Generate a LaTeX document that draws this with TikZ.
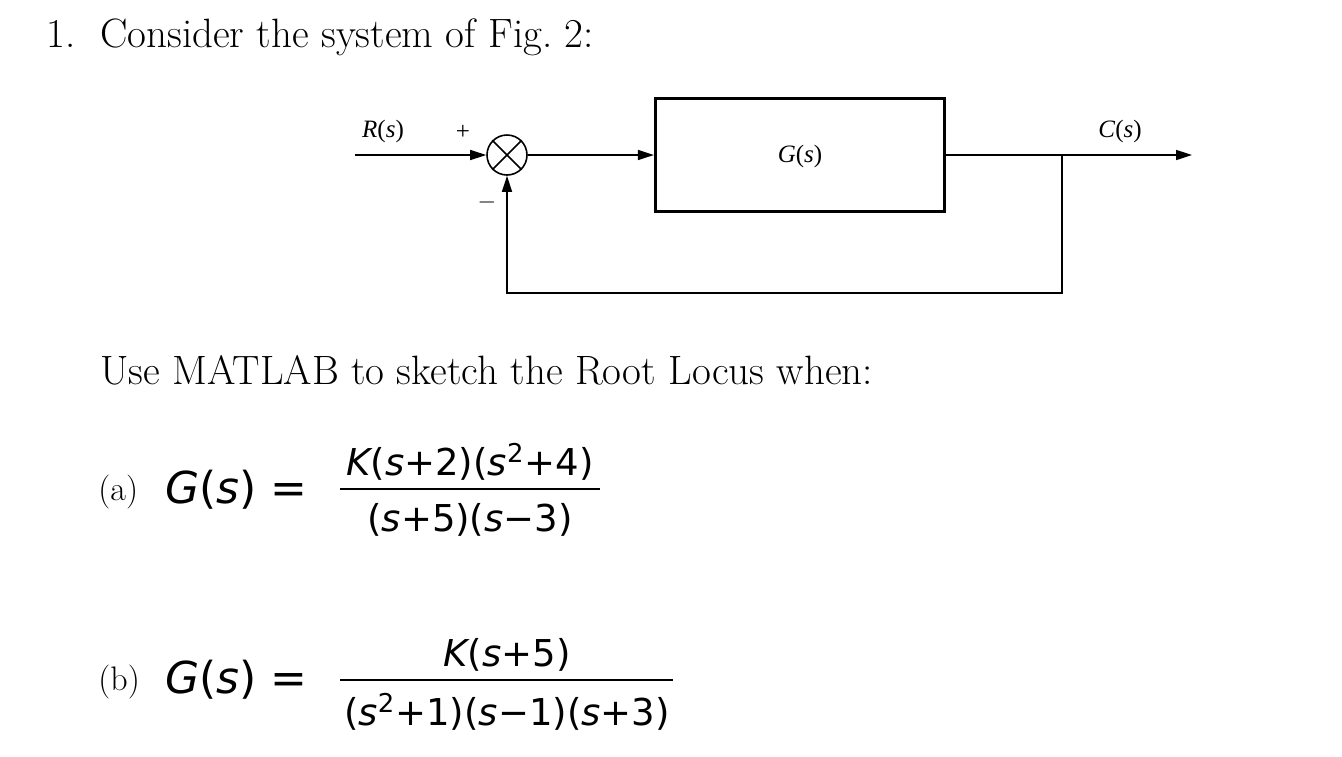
\documentclass[tikz,border=0pt]{standalone}
\usepackage{fontspec}
\newfontfamily\tms{Liberation Serif}
\newfontfamily\eqf{DejaVu Sans}
\usetikzlibrary{arrows.meta}
\begin{document}
\begin{tikzpicture}[x=0.5pt,y=-0.5pt,
  ln/.style={line width=0.8pt},
  ar/.style={ln,-{Triangle[length=8pt,width=5pt]}},
  lab/.style={font=\fontsize{12.5}{14}\selectfont\tms},
  txt/.style={font=\fontsize{20.5}{22}\selectfont,anchor=west,inner sep=0},
  eq/.style={font=\fontsize{18.5}{20}\selectfont\eqf,inner sep=0}]
\useasboundingbox (0,0) rectangle (1342,756);
\node[txt] (t1) at (46,37) {1.\ \ Consider the system of Fig.~2:};
\coordinate (rin) at (355,155);
\node[circle,draw,ln,minimum size=40*0.5pt,inner sep=0] (sum) at (507,155) {};
\draw[ln] (sum.north west) -- (sum.south east) (sum.north east) -- (sum.south west);
\node[draw,line width=1.6pt,minimum width=289*0.5pt,minimum height=113*0.5pt] (G) at (800,155) {};
\node[lab] (gl) at (800,156) {\textit{G}(\textit{s})};
\node[lab] (rl) at (383,131) {\textit{R}(\textit{s})};
\node[lab] (cl) at (1120,131) {\textit{C}(\textit{s})};
\node[lab] (pl) at (463,132) {+};
\node[lab] (ml) at (487,202) {$-$};
\coordinate (cout) at (1192,155);
\coordinate (br) at (1062,155);
\coordinate (fb1) at (1062,293);
\coordinate (fb2) at (507,293);
\draw[ar] (rin) -- (sum.west);
\draw[ar] (sum.east) -- (G.west);
\draw[ar] (G.east) -- (cout);
\draw[ar] (br) -- (fb1) -- (fb2) -- (sum.south);
\node[txt] (t2) at (100,370) {Use MATLAB to sketch the Root Locus when:};
\node[txt,font=\fontsize{17}{18}\selectfont] (a) at (98,492) {(a)};
\node[eq,anchor=west,font=\fontsize{22}{24}\selectfont\eqf] (ga) at (165,490) {\itshape G\upshape(\itshape s\upshape) =};
\node[eq] (na) at (470,462) {\itshape K\upshape(\itshape s\upshape+2)(\itshape s\upshape\textsuperscript{2}+4)};
\draw[line width=1.2pt] (340,489) -- (600,489);
\node[eq] (da) at (470,520) {(\itshape s\upshape+5)(\itshape s\upshape−3)};
\node[txt,font=\fontsize{17}{18}\selectfont] (b) at (98,682) {(b)};
\node[eq,anchor=west,font=\fontsize{22}{24}\selectfont\eqf] (gb) at (165,680) {\itshape G\upshape(\itshape s\upshape) =};
\node[eq] (nb) at (507,655) {\itshape K\upshape(\itshape s\upshape+5)};
\draw[line width=1.2pt] (340,680) -- (673,680);
\node[eq] (db) at (507,712) {(\itshape s\upshape\textsuperscript{2}+1)(\itshape s\upshape−1)(\itshape s\upshape+3)};
\end{tikzpicture}
\end{document}
